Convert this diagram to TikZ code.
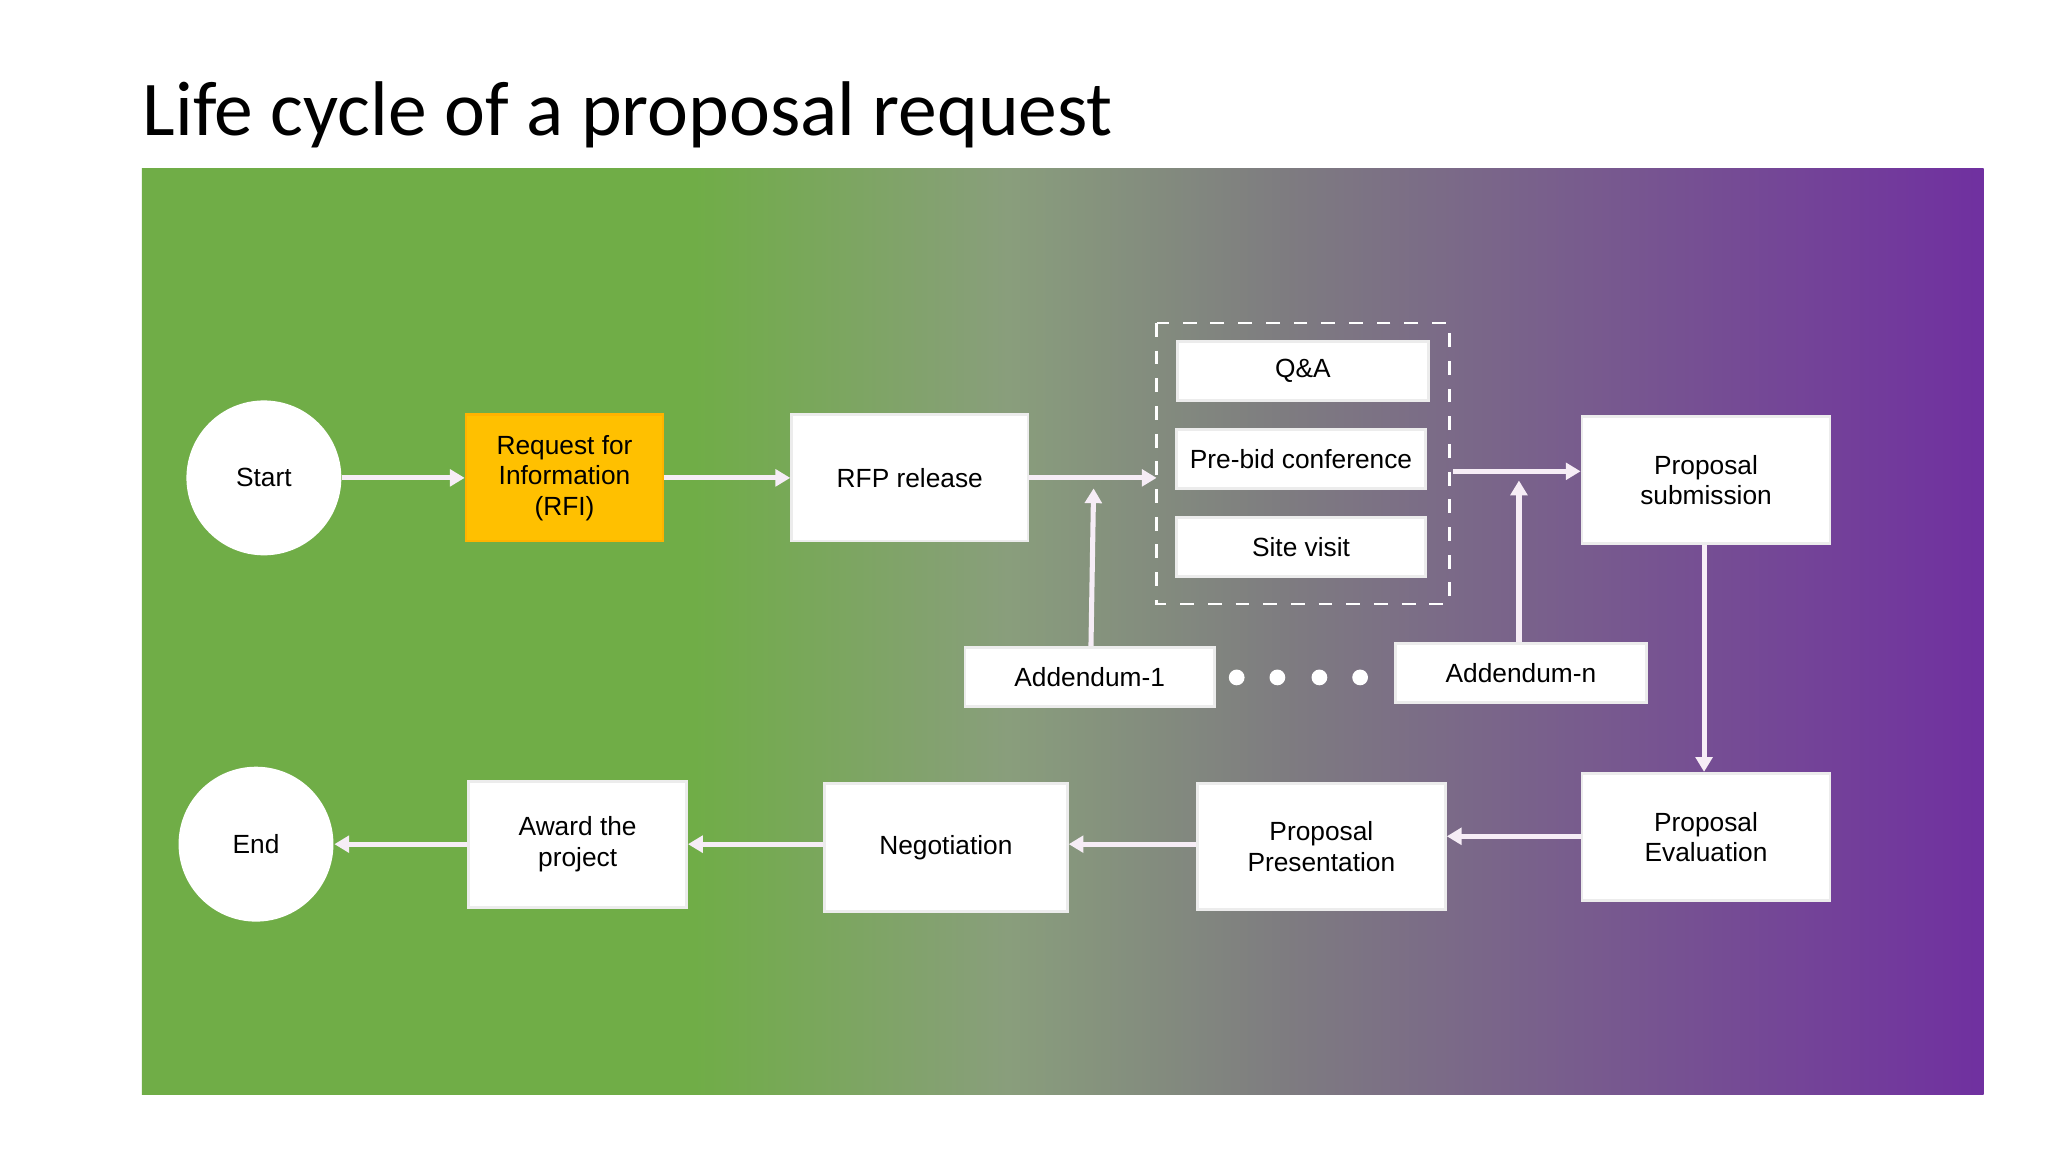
\documentclass[tikz,border=0pt]{standalone}
\usepackage{fontspec}
\setmainfont{Liberation Sans}
\newfontfamily\titlefont{Carlito}
\usetikzlibrary{arrows.meta}
\definecolor{gA}{RGB}{112,173,71}
\definecolor{gB}{RGB}{137,158,124}
\definecolor{gC}{RGB}{126,124,128}
\definecolor{gD}{RGB}{112,48,160}
\definecolor{rfi}{RGB}{255,192,0}
\pgfdeclarehorizontalshading{bgshade}{100bp}{color(0bp)=(gA); color(25bp)=(gA); color(40bp)=(gA); color(48.5bp)=(gB); color(56bp)=(gC); color(75bp)=(gD); color(100bp)=(gD)}
\tikzset{
  box/.style={draw=white!85!gray, line width=0.6pt, fill=white, align=center, font=\fontsize{5.7}{6.6}\selectfont, inner sep=0pt},
  circ/.style={circle, fill=white, minimum size=1.18cm, inner sep=0pt, font=\fontsize{5.7}{6.6}\selectfont},
  arr/.style={draw=white!93!violet, line width=1.1pt, -{Triangle[length=3.2pt,width=3.6pt]}},
  dot/.style={circle, fill=white, minimum size=0.12cm, inner sep=0pt}
}
\newcommand{\bx}[6]{\node[box, minimum width=#4cm-#2cm, minimum height=#5cm-#3cm] (#1) at ({(#2+#4)/2},{-(#3+#5)/2}) {#6};}
\begin{document}
\begin{tikzpicture}[x=1cm,y=1cm]
\useasboundingbox (0,0) rectangle (15.6,-8.775);
\fill[white] (0,0) rectangle (15.6,-8.775);
\shade[shading=bgshade] (1.08,-1.28) rectangle (15.11,-8.34);
\node[anchor=base west, inner sep=0pt, font=\titlefont\fontsize{16.8}{18}\selectfont] (title) at (1.08,-1.03) {Life cycle of a proposal request};
\node[circ] (start) at (2.01,-3.64) {Start};
\node[circ] (end) at (1.95,-6.43) {End};
\node[box, fill=rfi, draw=rfi!80!orange, minimum width=1.5cm, minimum height=0.96cm] (rfi) at (4.30,-3.64) {Request for\\Information\\(RFI)};
\bx{rfp}{6.03}{3.16}{7.83}{4.12}{RFP release}
\draw[white, dashed, line width=0.5pt] (8.81,-2.46) rectangle (11.04,-4.60);
\coordinate (dl) at (8.81,-3.64);
\coordinate (dr) at (11.07,-3.59);
\bx{qa}{8.97}{2.60}{10.88}{3.05}{Q\&A}
\bx{pre}{8.96}{3.27}{10.86}{3.72}{Pre-bid conference}
\bx{site}{8.96}{3.94}{10.86}{4.39}{Site visit}
\bx{sub}{12.05}{3.17}{13.94}{4.14}{Proposal\\submission}
\bx{add1}{7.35}{4.93}{9.25}{5.38}{Addendum-1}
\bx{addn}{10.63}{4.90}{12.54}{5.35}{Addendum-n}
\node[dot] (d1) at (9.42,-5.16) {};
\node[dot] (d2) at (9.73,-5.16) {};
\node[dot] (d3) at (10.05,-5.16) {};
\node[dot] (d4) at (10.36,-5.16) {};
\bx{award}{3.57}{5.95}{5.23}{6.91}{Award the\\project}
\bx{neg}{6.28}{5.97}{8.13}{6.94}{Negotiation}
\bx{pres}{9.12}{5.97}{11.01}{6.93}{Proposal\\Presentation}
\bx{eval}{12.05}{5.89}{13.94}{6.86}{Proposal\\Evaluation}
\coordinate (a1t) at (8.33,-3.72);
\coordinate (ant) at (11.57,-3.66);
\draw[arr] (start.east) -- (rfi.west);
\draw[arr] (rfi.east) -- (rfp.west);
\draw[arr] (rfp.east) -- (dl);
\draw[arr] (dr) -- (dr -| sub.west);
\draw[arr] (add1.north -| 8.31,0) -- (a1t);
\draw[arr] (addn.north -| ant) -- (ant);
\draw[arr] (sub.south -| 12.98,0) -- (eval.north -| 12.98,0);
\draw[arr] (eval.west |- 0,-6.37) -- (pres.east |- 0,-6.37);
\draw[arr] (pres.west |- 0,-6.43) -- (neg.east |- 0,-6.43);
\draw[arr] (neg.west |- 0,-6.43) -- (award.east |- 0,-6.43);
\draw[arr] (award.west |- 0,-6.43) -- (end.east);
\end{tikzpicture}
\end{document}
